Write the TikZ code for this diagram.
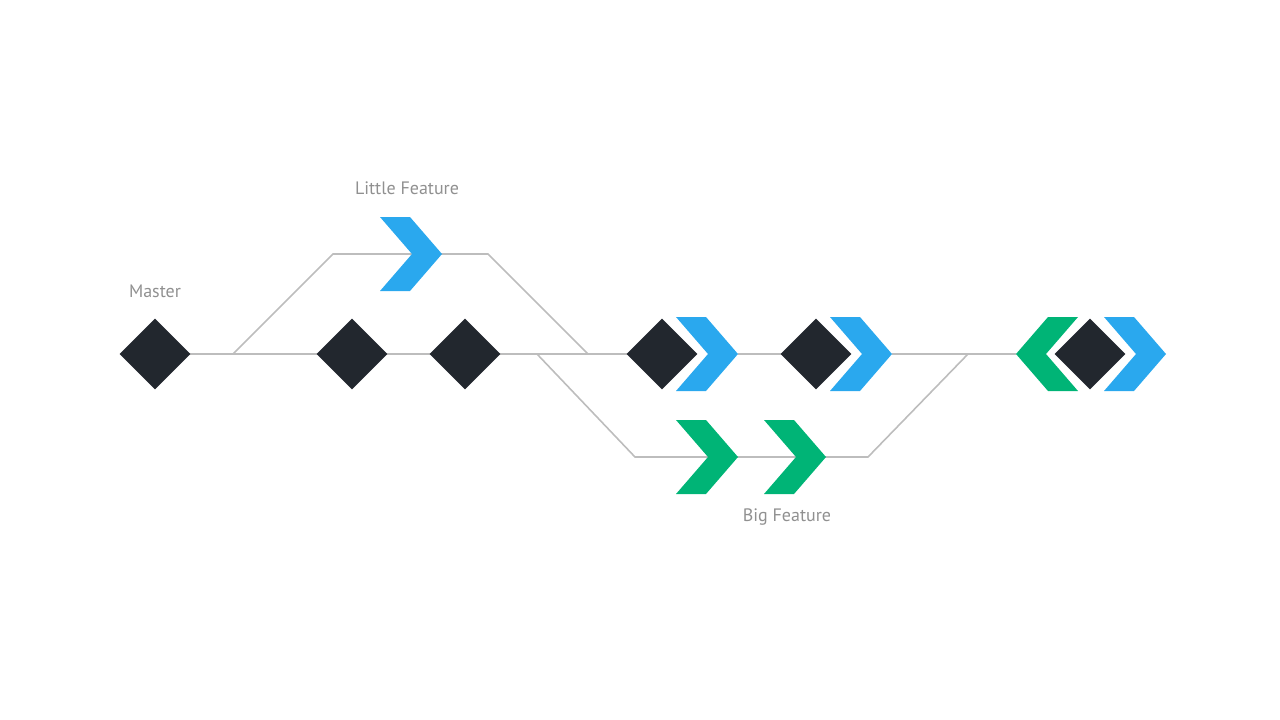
\documentclass[tikz,border=0pt]{standalone}
\usepackage{fontspec}
\setmainfont{PT Sans}
\usetikzlibrary{shapes.geometric,backgrounds}
\definecolor{commitdark}{HTML}{22272E}
\definecolor{featblue}{HTML}{2AA8EE}
\definecolor{featgreen}{HTML}{00B476}
\definecolor{linegray}{HTML}{BDBDBD}
\definecolor{labelgray}{HTML}{909090}
\tikzset{
  commit/.style={
    diamond, fill=commitdark, inner sep=0pt,
    minimum width=71pt, minimum height=71pt
  },
  branchline/.style={draw=linegray, line width=1.6pt},
  tag/.style={text=labelgray, font=\fontsize{18}{20}\selectfont},
  chevright/.pic={
    \fill[pic actions] (0,-37) -- (30,-37) -- (62,0) -- (30,37)
      -- (0,37) -- (32,0) -- cycle;
    \coordinate (-tip) at (62,0);
  },
  chevleft/.pic={
    \fill[pic actions] (0,-37) -- (-30,-37) -- (-62,0) -- (-30,37)
      -- (0,37) -- (-32,0) -- cycle;
    \coordinate (-tip) at (-62,0);
  }
}

\begin{document}
\begin{tikzpicture}[x=1pt, y=-1pt]
\useasboundingbox (0,0) rectangle (1280,720);

% ---------- Master commits ----------
\node[commit] (m1) at (155,354) {};
\node[commit] (m2) at (352,354) {};
\node[commit] (m3) at (465,354) {};
\node[commit] (m4) at (662,354) {};
\node[commit] (m5) at (816,354) {};
\node[commit] (m6) at (1090,354) {};
\node[tag] (master) at (155,291) {Master};

% ---------- Branch corners ----------
\coordinate (fork1) at (233,354);
\coordinate (lf1) at (333,254);
\coordinate (lf2) at (488,254);
\coordinate (join1) at (588,354);
\coordinate (fork2) at (537,354);
\coordinate (bf1) at (635,457);
\coordinate (bf2) at (868,457);
\coordinate (join2) at (968,354);

% ---------- Feature commits ----------
\pic[featblue] (little) at (380,254) {chevright};
\node[tag] (littlelbl) at (407,188) {Little Feature};

\pic[featgreen] (big1) at (676,457) {chevright};
\pic[featgreen] (big2) at (764,457) {chevright};
\node[tag] (biglbl) at (787,517) {Big Feature};

\pic[featblue] (merge4) at (676,354) {chevright};
\pic[featblue] (merge5) at (830,354) {chevright};
\pic[featgreen] (merge6g) at (1078,354) {chevleft};
\pic[featblue] (merge6b) at (1104,354) {chevright};

% ---------- Lines ----------
\begin{scope}[on background layer]
\draw[branchline] (m1.center) -- (m4.center);
\draw[branchline] (merge4-tip) -- (m5.center);
\draw[branchline] (merge5-tip) -- (merge6g-tip);
\draw[branchline] (fork1) -- (lf1) -- (lf2) -- (join1);
\draw[branchline] (fork2) -- (bf1) -- (bf2) -- (join2);
\end{scope}

\end{tikzpicture}
\end{document}
